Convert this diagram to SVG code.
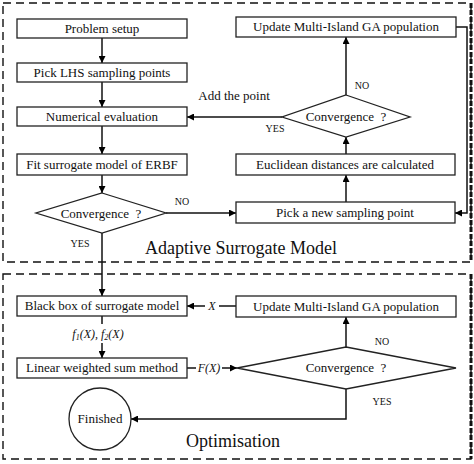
<svg xmlns="http://www.w3.org/2000/svg" width="474" height="464" viewBox="0 0 474 464" font-family="Liberation Serif, DejaVu Serif, serif">
<defs>
<marker id="ah" viewBox="0 0 10 10" refX="10" refY="5" markerWidth="7" markerHeight="7" markerUnits="userSpaceOnUse" orient="auto">
<path d="M0,0 L10,5 L0,10 z" fill="#000"/>
</marker>
</defs>
<style>
.box{fill:#fff;stroke:#222;stroke-width:1.3}
.dash{fill:none;stroke:#111;stroke-width:1.4;stroke-dasharray:8 5}
text{font-family:'Liberation Serif','DejaVu Serif',serif}
.t{font-size:13px;text-anchor:middle;fill:#111}
.s{font-size:10px;text-anchor:middle;fill:#111}
.i{font-size:12px;font-style:italic;text-anchor:middle;fill:#111}
.big{font-size:18px;fill:#111}
.c{fill:none;stroke:#111;stroke-width:1.5}
.ca{fill:none;stroke:#111;stroke-width:1.5;marker-end:url(#ah)}
</style>
<rect width="474" height="464" fill="#fff"/>
<g id="frames">
<rect class="dash" x="3" y="3" width="468" height="259"/>
<line x1="471" y1="3" x2="471" y2="262" stroke="#111" stroke-width="3" stroke-dasharray="5 2"/>
<rect class="dash" x="3" y="274" width="468" height="185"/>
<line x1="471" y1="274" x2="471" y2="459" stroke="#111" stroke-width="3" stroke-dasharray="5 2"/>
<text class="big" x="145" y="254">Adaptive Surrogate Model</text>
<text class="big" x="186" y="447">Optimisation</text>
</g>
<g id="connectors">
<line class="ca" x1="102" y1="38" x2="102" y2="63"/>
<line class="ca" x1="102" y1="82" x2="102" y2="107"/>
<line class="ca" x1="102" y1="126" x2="102" y2="154"/>
<line class="ca" x1="102" y1="175" x2="102" y2="193"/>
<line class="ca" x1="166" y1="213" x2="236" y2="213"/>
<text class="s" x="182" y="205">NO</text>
<line class="ca" x1="102" y1="233" x2="102" y2="296"/>
<text class="s" x="80" y="247">YES</text>
<line class="ca" x1="346" y1="202" x2="346" y2="175"/>
<line class="ca" x1="346" y1="154" x2="346" y2="137"/>
<line class="ca" x1="346" y1="95" x2="346" y2="37"/>
<text class="s" x="362" y="89">NO</text>
<line class="ca" x1="282" y1="117" x2="187" y2="117"/>
<text class="t" x="234" y="100">Add the point</text>
<text class="s" x="275" y="132">YES</text>
<polyline class="ca" points="456,27 467,27 467,213 455,213"/>
<line class="ca" x1="346" y1="347" x2="346" y2="317"/>
<text class="s" x="382" y="345">NO</text>
<line class="c" x1="236" y1="306" x2="219" y2="306"/>
<text class="i" x="212" y="310">X</text>
<line class="ca" x1="205" y1="306" x2="187" y2="306"/>
<line class="c" x1="102" y1="316" x2="102" y2="324"/>
<text class="i" x="98" y="338">f<tspan font-size="8" dy="2">1</tspan><tspan dy="-2">(X), f</tspan><tspan font-size="8" dy="2">2</tspan><tspan dy="-2">(X)</tspan></text>
<line class="ca" x1="102" y1="343" x2="102" y2="358"/>
<line class="c" x1="187" y1="368" x2="196" y2="368"/>
<text class="i" x="209" y="372">F(X)</text>
<line class="ca" x1="222" y1="368" x2="237" y2="368"/>
<polyline class="ca" points="346,389 346,419 131,419"/>
<text class="s" x="382" y="405">YES</text>
</g>
<g id="problem-setup"><rect class="box" x="17" y="19" width="170" height="19"/><text class="t" x="102" y="33">Problem setup</text></g>
<g id="pick-lhs"><rect class="box" x="17" y="63" width="170" height="19"/><text class="t" x="102" y="77">Pick LHS sampling points</text></g>
<g id="numerical-evaluation"><rect class="box" x="17" y="107" width="170" height="19"/><text class="t" x="102" y="121">Numerical evaluation</text></g>
<g id="fit-surrogate"><rect class="box" x="17" y="154" width="170" height="21"/><text class="t" x="102" y="169">Fit surrogate model of ERBF</text></g>
<g id="convergence-1"><polygon class="box" points="102,193 166,213 102,233 36,213"/><text class="t" x="101" y="218" style="white-space:pre">Convergence  ?</text></g>
<g id="update-ga-1"><rect class="box" x="236" y="17" width="220" height="20"/><text class="t" x="346" y="31">Update Multi-Island GA population</text></g>
<g id="convergence-2"><polygon class="box" points="346,95 410,117 346,137 282,117"/><text class="t" x="346" y="121" style="white-space:pre">Convergence  ?</text></g>
<g id="euclidean"><rect class="box" x="236" y="154" width="219" height="21"/><text class="t" x="345" y="169">Euclidean distances are calculated</text></g>
<g id="pick-new"><rect class="box" x="236" y="202" width="219" height="21"/><text class="t" x="345" y="217">Pick a new sampling point</text></g>
<g id="black-box"><rect class="box" x="17" y="296" width="170" height="20"/><text class="t" x="102" y="310">Black box of surrogate model</text></g>
<g id="linear-weighted"><rect class="box" x="17" y="358" width="170" height="20"/><text class="t" x="102" y="372">Linear weighted sum method</text></g>
<g id="update-ga-2"><rect class="box" x="236" y="296" width="220" height="21"/><text class="t" x="346" y="311">Update Multi-Island GA population</text></g>
<g id="convergence-3"><polygon class="box" points="346,347 456,368 346,389 237,368"/><text class="t" x="346" y="372" style="white-space:pre">Convergence  ?</text></g>
<g id="finished"><circle class="box" cx="100" cy="419" r="31"/><text class="t" x="100" y="423">Finished</text></g>
</svg>
